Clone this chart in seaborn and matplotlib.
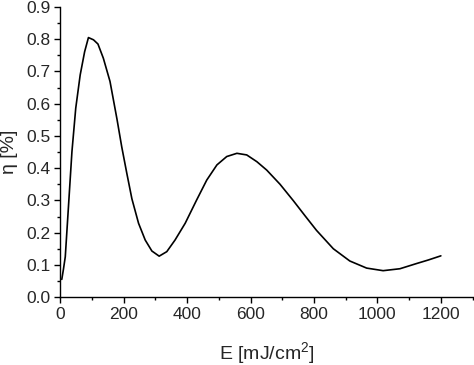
import pandas as pd
import matplotlib
matplotlib.use("Agg")
import matplotlib.pyplot as plt
import seaborn as sns
from matplotlib.ticker import MultipleLocator

# values
energy = [5, 10, 16, 26, 37, 49, 63, 77, 89, 105, 119, 136, 157, 179, 194,
          210, 226, 247, 268, 289, 312, 336, 362, 394, 430, 462, 494, 525,
          557, 588, 620, 651, 693, 735, 772, 808, 861, 913, 966, 1018, 1071,
          1123, 1160, 1200]
eta = [0.055, 0.085, 0.125, 0.28, 0.451, 0.586, 0.689, 0.761, 0.805, 0.798,
       0.785, 0.741, 0.669, 0.552, 0.466, 0.384, 0.305, 0.229, 0.177, 0.143,
       0.127, 0.141, 0.177, 0.229, 0.301, 0.363, 0.41, 0.436, 0.446, 0.441,
       0.42, 0.394, 0.35, 0.299, 0.252, 0.207, 0.15, 0.112, 0.09, 0.082,
       0.088, 0.104, 0.115, 0.128]

df = pd.DataFrame({'E': energy, 'eta': eta})

sns.set_style("ticks")
plt.rcParams['font.family'] = ['Liberation Sans', 'DejaVu Sans']
plt.rcParams['mathtext.default'] = 'regular'

fig = plt.figure(figsize=(4.74, 3.65), dpi=100)
ax = fig.add_axes([0.127, 0.186, 0.87, 0.795])

sns.lineplot(data=df, x='E', y='eta', color='black', linewidth=1.2, ax=ax)

ax.set_xlim(0, 1300)
ax.set_ylim(0, 0.9)
ax.xaxis.set_minor_locator(MultipleLocator(100))
ax.yaxis.set_major_locator(MultipleLocator(0.1))
ax.yaxis.set_minor_locator(MultipleLocator(0.05))
ax.yaxis.set_major_formatter(plt.FormatStrFormatter('%.1f'))
ax.set_xticks([0, 200, 400, 600, 800, 1000, 1200])

ax.tick_params(which='major', length=4, width=1, labelsize=12.5, color='black', pad=3)
ax.tick_params(which='minor', length=2, width=1, color='black')

sns.despine(ax=ax)
for s in ['left', 'bottom']:
    ax.spines[s].set_linewidth(1)
    ax.spines[s].set_color('black')

ax.set_xlabel('E [mJ/cm$^2$]', fontsize=14, labelpad=13)
ax.set_ylabel('η [%]', fontsize=14, labelpad=6)

fig.savefig('out.png', dpi=100)
